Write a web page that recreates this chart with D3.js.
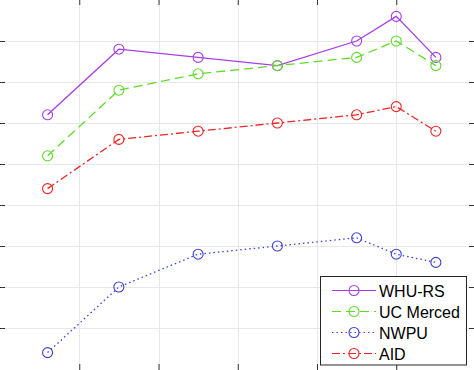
<!DOCTYPE html>
<html><head><meta charset="utf-8">
<script src="https://cdn.jsdelivr.net/npm/d3@7"></script>
<style>html,body{margin:0;padding:0;background:#fff;overflow:hidden}</style>
</head><body>
<svg id="c" width="474" height="370"></svg>
<script>
const xValues = [0.6, 1.5, 2.5, 3.5, 4.5, 5.0, 5.5];
const whuRS    = [96.2, 97.8, 97.6, 97.4, 98.0, 98.6, 97.6];
const ucMerced = [95.2, 96.8, 97.2, 97.4, 97.6, 98.0, 97.4];
const nwpu     = [90.4, 92.0, 92.8, 93.0, 93.2, 92.8, 92.6];
const aid      = [94.4, 95.6, 95.8, 96.0, 96.2, 96.4, 95.8];
const xTicks = [1, 2, 3, 4, 5];
const yTicks = [91, 92, 93, 94, 95, 96, 97, 98];
const seriesNames = ["WHU-RS", "UC Merced", "NWPU", "AID"];

const series = [
  {name: seriesNames[0], values: whuRS,    color: "#a83ee6", dash: null},
  {name: seriesNames[1], values: ucMerced, color: "#5fdc2a", dash: "9,5"},
  {name: seriesNames[2], values: nwpu,     color: "#3f3fd4", dash: "1.5,3"},
  {name: seriesNames[3], values: aid,      color: "#ee2424", dash: "8,3,2,3"}
];

const svg = d3.select("#c");
const x = d3.scaleLinear().domain([0, 6]).range([0, 475.5]);
const y = d3.scaleLinear().domain([90, 99]).range([369, 0]);

// grid
svg.append("g").selectAll("line").data(xTicks).join("line")
  .attr("x1", d => Math.round(x(d)) + 0.5).attr("x2", d => Math.round(x(d)) + 0.5)
  .attr("y1", 0).attr("y2", 370).attr("stroke", "#e8e8e8").attr("stroke-width", 1);
svg.append("g").selectAll("line").data(yTicks).join("line")
  .attr("y1", d => Math.round(y(d)) + 0.5).attr("y2", d => Math.round(y(d)) + 0.5)
  .attr("x1", 0).attr("x2", 474).attr("stroke", "#e8e8e8").attr("stroke-width", 1);

// ticks via axes (inside ticks)
const tk = "#333";
const axL = svg.append("g").attr("transform", "translate(0,0)")
  .call(d3.axisRight(y).tickValues(yTicks).tickSize(5).tickFormat(""));
const axR = svg.append("g").attr("transform", "translate(474,0)")
  .call(d3.axisLeft(y).tickValues(yTicks).tickSize(5).tickFormat(""));
const axT = svg.append("g").attr("transform", "translate(0,0)")
  .call(d3.axisBottom(x).tickValues(xTicks).tickSize(5).tickFormat(""));
const axB = svg.append("g").attr("transform", "translate(0,370)")
  .call(d3.axisTop(x).tickValues(xTicks).tickSize(6).tickFormat(""));
[axL, axR, axT, axB].forEach(a => {
  a.select(".domain").remove();
  a.selectAll("line").attr("stroke", tk).attr("stroke-width", 1);
});

const line = d3.line().x((d, i) => x(xValues[i])).y(d => y(d));

series.forEach(s => {
  svg.append("path").datum(s.values).attr("d", line)
    .attr("fill", "none").attr("stroke", s.color).attr("stroke-width", 1.3)
    .attr("stroke-dasharray", s.dash);
  svg.append("g").selectAll("circle").data(s.values).join("circle")
    .attr("cx", (d, i) => x(xValues[i])).attr("cy", d => y(d)).attr("r", 5)
    .attr("fill", "none").attr("stroke", s.color).attr("stroke-width", 1.1);
});

// legend
const lg = svg.append("g");
lg.append("rect").attr("x", 320.5).attr("y", 276.5).attr("width", 146).attr("height", 88.5)
  .attr("fill", "#fff").attr("stroke", "#262626").attr("stroke-width", 1);
series.forEach((s, i) => {
  const cy = 290.5 + i * 21;
  lg.append("line").attr("x1", 332).attr("x2", 376).attr("y1", cy).attr("y2", cy)
    .attr("stroke", s.color).attr("stroke-width", 1.2).attr("stroke-dasharray", s.dash);
  lg.append("circle").attr("cx", 354).attr("cy", cy).attr("r", 5)
    .attr("fill", "none").attr("stroke", s.color).attr("stroke-width", 1.1);
  lg.append("text").attr("x", 379).attr("y", cy + 6).text(s.name)
    .attr("font-family", "Liberation Sans, Arial, sans-serif").attr("font-size", 16)
    .attr("fill", "#000");
});
</script>
</body></html>
